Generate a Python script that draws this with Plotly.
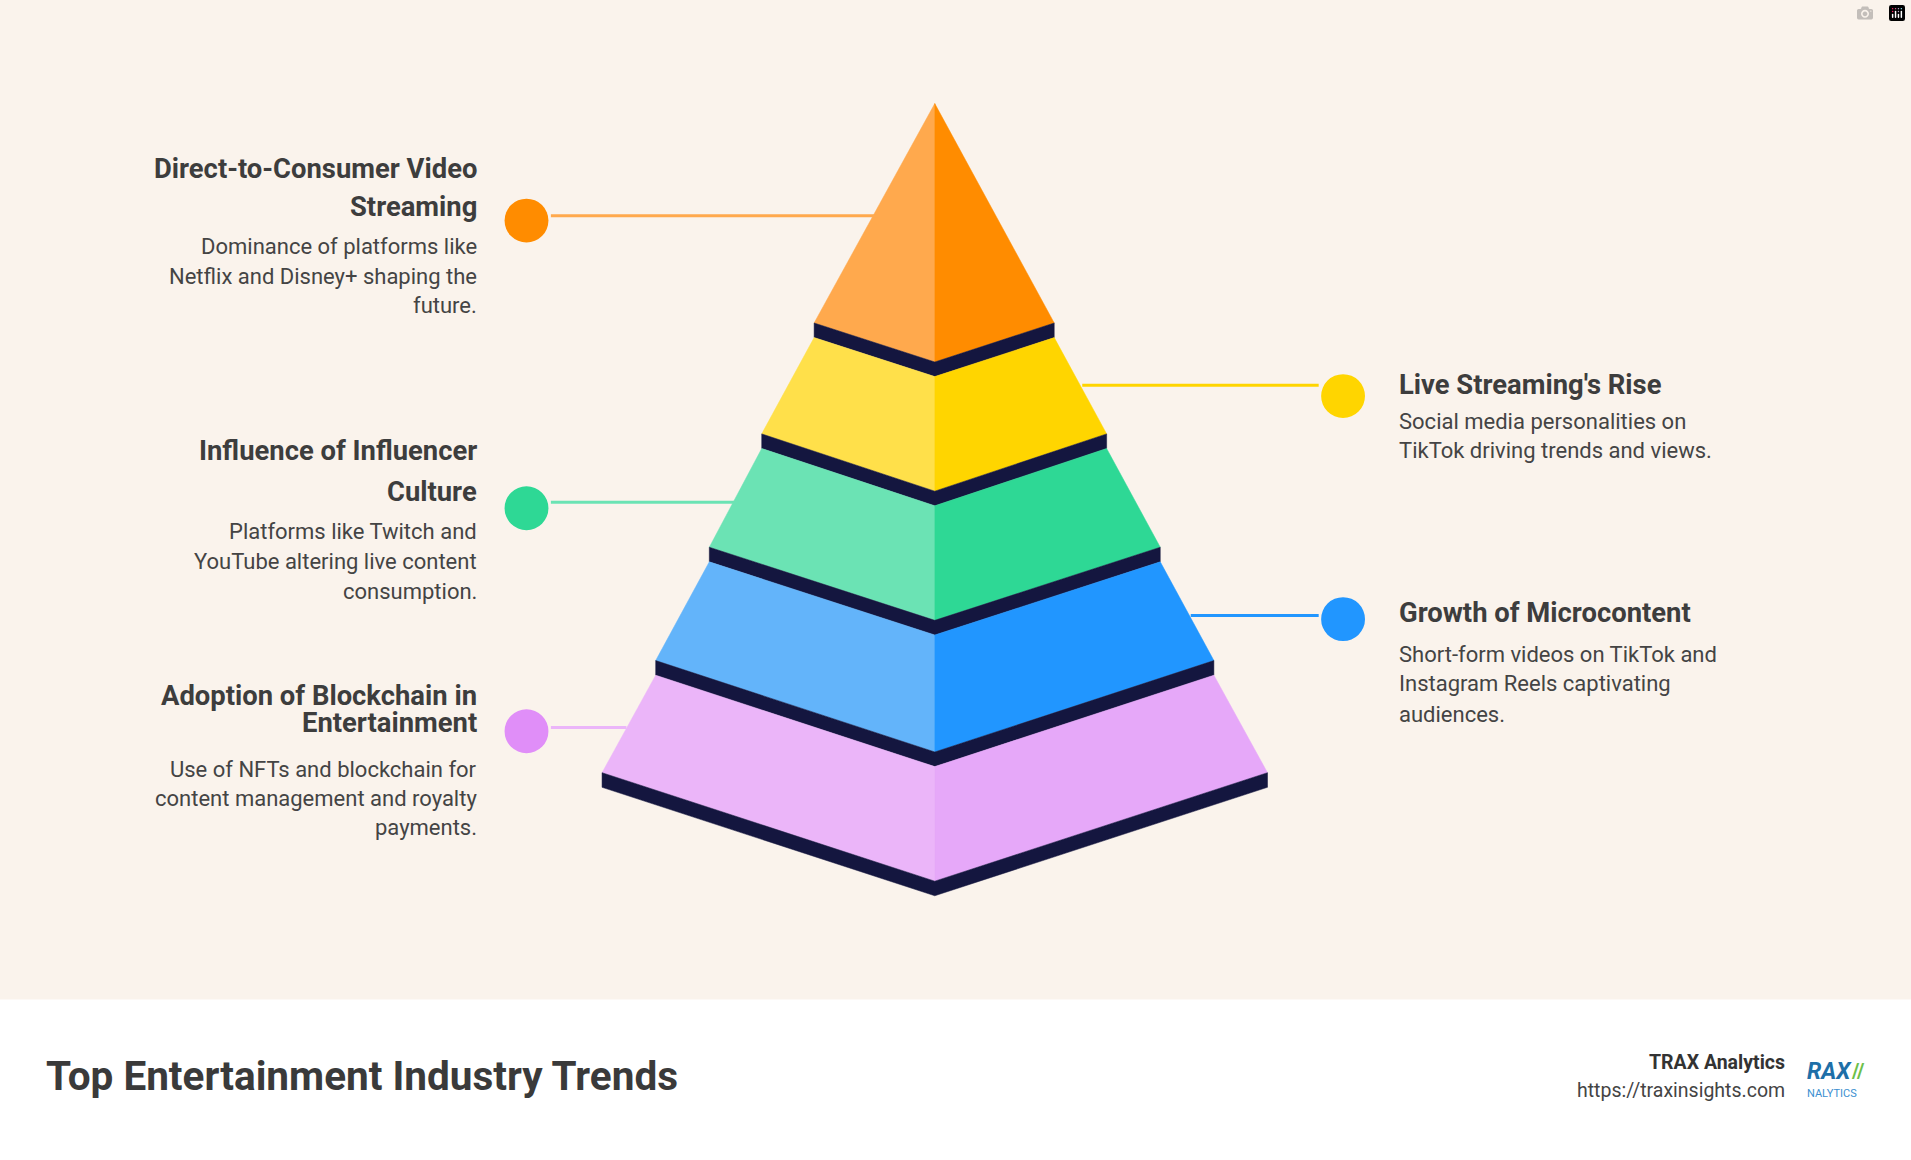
import plotly.graph_objects as go

S = 1911 / 1568.0
W, H = 1911, 1160
YMAX = H / S

apex = (767, 85)
edge_x_left = [668, 625, 582, 538, 494]
edge_x_right = [865, 908, 952, 996, 1040]
edge_y = [265, 356, 449, 542, 634]
center_y = [297, 403, 509, 617, 723]
band = 12
left_colors = ["#FFA94D", "#FFE04A", "#6BE3B4", "#63B4FA", "#EBB5F9"]
right_colors = ["#FF8C00", "#FFD500", "#2ED895", "#2196FF", "#E6A8F9"]
band_color = "#14163F"

left_items = [
    (["Direct-to-Consumer Video", "Streaming"], [139, 170],
     ["Dominance of platforms like", "Netflix and Disney+ shaping the", "future."], [202, 227, 251]),
    (["Influence of Influencer", "Culture"], [370, 404],
     ["Platforms like Twitch and", "YouTube altering live content", "consumption."], [436, 461, 485]),
    (["Adoption of Blockchain in", "Entertainment"], [571, 593],
     ["Use of NFTs and blockchain for", "content management and royalty", "payments."], [631, 655, 679]),
]
right_items = [
    (["Live Streaming's Rise"], [316],
     ["Social media personalities on", "TikTok driving trends and views."], [346, 370]),
    (["Growth of Microcontent"], [503],
     ["Short-form videos on TikTok and", "Instagram Reels captivating", "audiences."], [537, 561, 586]),
]
left_dots = [(432, 181, 177, 720, "#FF8C00", "#FFA94D"),
             (432, 417, 412, 606, "#2ED895", "#6BE3B4"),
             (432, 600, 597, 514, "#E08EF8", "#EBB5F9")]
right_dots = [(1102, 325, 316, 888, "#FFD500", "#FFD500"),
              (1102, 508, 505, 977, "#2196FF", "#2196FF")]

fig = go.Figure()
shapes = []

def poly(xs, ys, color):
    fig.add_trace(go.Scatter(x=xs + [xs[0]], y=ys + [ys[0]], fill="toself", fillcolor=color,
                             line=dict(color=color, width=0.5), mode="lines", hoverinfo="skip",
                             showlegend=False))

cx = apex[0]
prev_l = (apex[0], apex[1]); prev_c = apex[1]; prev_r = (apex[0], apex[1])
for i in range(5):
    lx, rx, ey, cy = edge_x_left[i], edge_x_right[i], edge_y[i], center_y[i]
    poly([prev_l[0], lx, cx, cx], [prev_l[1], ey, cy, prev_c], left_colors[i])
    poly([cx, cx, rx, prev_r[0]], [prev_c, cy, ey, prev_r[1]], right_colors[i])
    poly([lx, cx, rx, rx, cx, lx], [ey, cy, ey, ey + band, cy + band, ey + band], band_color)
    prev_l = (lx, ey + band); prev_c = cy + band; prev_r = (rx, ey + band)

for (x, y, ly, lx2, c, lc) in left_dots + right_dots:
    x0 = x + 20 if x < cx else lx2
    x1 = lx2 if x < cx else x - 20
    shapes.append(dict(type="line", x0=x0, x1=x1, y0=ly, y1=ly, line=dict(color=lc, width=3)))
    shapes.append(dict(type="circle", x0=x - 18, x1=x + 18, y0=y - 18, y1=y + 18,
                       fillcolor=c, line=dict(width=0)))

shapes.insert(0, dict(type="rect", x0=0, x1=1568, y0=820, y1=YMAX, fillcolor="white",
                      line=dict(width=0), layer="below"))

ann = []
def txt(x, y, t, size, bold, anchor, color):
    ann.append(dict(x=x, y=y, text=f"<b>{t}</b>" if bold else t, showarrow=False,
                    xanchor=anchor, yanchor="middle",
                    font=dict(family="Roboto", size=size, color=color)))

for heads, hy, desc, dy in left_items:
    for t, y in zip(heads, hy):
        txt(393, y, t, 27.4, True, "right", "#3d3d3d")
    for t, y in zip(desc, dy):
        txt(393, y, t, 22, False, "right", "#444444")
for heads, hy, desc, dy in right_items:
    for t, y in zip(heads, hy):
        txt(1146, y, t, 27.4, True, "left", "#3d3d3d")
    for t, y in zip(desc, dy):
        txt(1146, y, t, 22, False, "left", "#444444")

txt(36, 883, "Top Entertainment Industry Trends", 40.5, True, "left", "#3a3a3a")
txt(1466, 872, "TRAX Analytics", 19.5, True, "right", "#333333")
txt(1466, 895, "https://traxinsights.com", 19.5, False, "right", "#444444")
txt(1481, 879, "<i>RAX</i>", 23, True, "left", "#1E6FA8")
ann.append(dict(x=1517, y=879, text="<b>//</b>", showarrow=False, xanchor="left", yanchor="middle",
                font=dict(family="Roboto", size=20, color="#6CC04A")))
txt(1481, 897, "NALYTICS", 11, False, "left", "#3B8FD0")

fig.update_layout(
    width=W, height=H, margin=dict(l=0, r=0, t=0, b=0),
    paper_bgcolor="#FAF3EC", plot_bgcolor="#FAF3EC",
    xaxis=dict(range=[0, 1568], visible=False, fixedrange=True),
    yaxis=dict(range=[YMAX, 0], visible=False, fixedrange=True),
    shapes=shapes, annotations=ann, showlegend=False,
)
fig.write_html("out.html", post_script="document.body.style.margin='0';document.body.style.background='white';")
